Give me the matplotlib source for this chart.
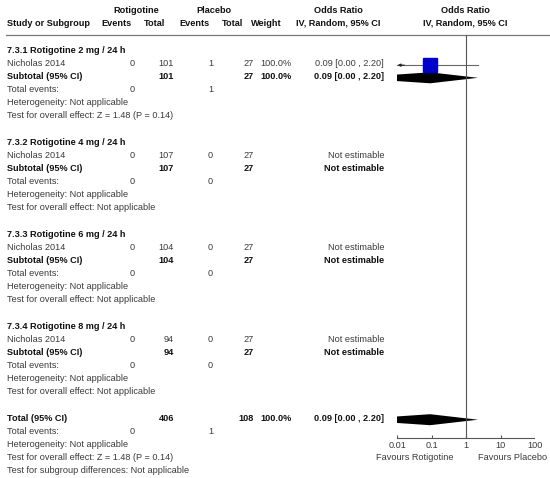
import matplotlib.pyplot as plt
from matplotlib.patches import Polygon

plt.rcParams['font.family'] = ['Liberation Sans', 'DejaVu Sans']

# data
groups = ['7.3.1 Rotigotine 2 mg / 24 h', '7.3.2 Rotigotine 4 mg / 24 h',
          '7.3.3 Rotigotine 6 mg / 24 h', '7.3.4 Rotigotine 8 mg / 24 h']
study = 'Nicholas 2014'
rot_events = [0, 0, 0, 0]
rot_total = [101, 107, 104, 94]
plc_events = [1, 0, 0, 0]
plc_total = [27, 27, 27, 27]
weights = ['100.0%', '', '', '']
or_est = [0.09, None, None, None]
or_low = [0.0004, None, None, None]   # shown as 0.00
or_high = [2.20, None, None, None]
group_tests = ['Z = 1.48 (P = 0.14)', 'Not applicable', 'Not applicable', 'Not applicable']

total_rot = 406
total_plc = 108
total_weight = '100.0%'
total_or = (0.09, 0.0004, 2.20)
ticks = [0.01, 0.1, 1, 10, 100]
tick_labels = ['0.01', '0.1', '1', '10', '100']

W, H = 550, 478
fig = plt.figure(figsize=(5.5, 4.78), dpi=100)
ax = fig.add_axes([0, 0, 1, 1])
ax.set_xlim(0, W)
ax.set_ylim(H, 0)
ax.axis('off')

# forest panel, log scale, 0.01 at x=397 and 100 at x=535
x0, x1 = 397.3, 535
fx = fig.add_axes([x0 / W, 0, (x1 - x0) / W, 1])
fx.set_xscale('log')
fx.set_xlim(0.01, 100)
fx.set_ylim(H, 0)
fx.axis('off')

fs = 6.6
grey = '#3a3a3a'
dark = '#111111'


def txt(x, y, s, ha='left', bold=False):
    ax.text(x, y, s, ha=ha, va='center', fontsize=fs,
            fontweight='bold' if bold else 'normal',
            color=dark if bold else grey)


def or_text(est, lo, hi):
    if est is None:
        return 'Not estimable'
    return f'{est:.2f} [{lo:.2f} , {hi:.2f}]'


# columns
c_ev1, c_tot1, c_ev2, c_tot2, c_w, c_or = 135, 174, 213, 254, 292, 384

# headers
txt(136, 10, 'Rotigotine', 'center', True)
txt(214, 10, 'Placebo', 'center', True)
txt(338, 10, 'Odds Ratio', 'center', True)
txt(465, 10, 'Odds Ratio', 'center', True)
txt(7, 23, 'Study or Subgroup', bold=True)
txt(116, 23, 'Events', 'center', True)
txt(155, 23, 'Total', 'center', True)
txt(194, 23, 'Events', 'center', True)
txt(233, 23, 'Total', 'center', True)
txt(266, 23, 'Weight', 'center', True)
txt(338, 23, 'IV, Random, 95% CI', 'center', True)
txt(465, 23, 'IV, Random, 95% CI', 'center', True)
ax.plot([6, W], [35, 35], color='#777777', lw=0.9)

step = 13.15
y_first = 50
half = 5.5

for i, g in enumerate(groups):
    base = y_first + i * 7 * step
    r = [base + k * step for k in range(6)]
    txt(7, r[0], g, bold=True)
    # study row
    txt(7, r[1], study)
    txt(c_ev1, r[1], str(rot_events[i]), 'right')
    txt(c_tot1, r[1], str(rot_total[i]), 'right')
    txt(c_ev2, r[1], str(plc_events[i]), 'right')
    txt(c_tot2, r[1], str(plc_total[i]), 'right')
    txt(c_w, r[1], weights[i], 'right')
    txt(c_or, r[1], or_text(or_est[i], or_low[i], or_high[i]), 'right')
    # subtotal row
    txt(7, r[2], 'Subtotal (95% CI)', bold=True)
    txt(c_tot1, r[2], str(rot_total[i]), 'right', True)
    txt(c_tot2, r[2], str(plc_total[i]), 'right', True)
    txt(c_w, r[2], weights[i], 'right', True)
    txt(c_or, r[2], or_text(or_est[i], or_low[i], or_high[i]), 'right', True)
    txt(7, r[3], 'Total events:')
    txt(c_ev1, r[3], str(rot_events[i]), 'right')
    txt(c_ev2, r[3], str(plc_events[i]), 'right')
    txt(7, r[4], 'Heterogeneity: Not applicable')
    txt(7, r[5], 'Test for overall effect: ' + group_tests[i])

    if or_est[i] is not None:
        ys = r[1] + 2
        fx.plot([0.01, or_high[i]], [ys, ys], color='#666666', lw=0.8)
        fx.annotate('', xy=(0.0102, ys), xytext=(0.016, ys),
                    arrowprops=dict(arrowstyle='-|>', color='#222222', lw=0.8,
                                    mutation_scale=4, shrinkA=0, shrinkB=0))
        fx.plot([or_est[i]], [ys], marker='s', ms=9.5, color='#0000cc',
                mec='#0000cc')
        yd = r[2] + 1.5
        fx.add_patch(Polygon([(or_low[i], yd), (or_est[i], yd - half),
                              (or_high[i], yd), (or_est[i], yd + half)],
                             closed=True, color='black', lw=0))

# overall total
yt = y_first + 28 * step
txt(7, yt, 'Total (95% CI)', bold=True)
txt(c_tot1, yt, str(total_rot), 'right', True)
txt(c_tot2, yt, str(total_plc), 'right', True)
txt(c_w, yt, total_weight, 'right', True)
txt(c_or, yt, or_text(*total_or), 'right', True)
txt(7, yt + step, 'Total events:')
txt(c_ev1, yt + step, str(sum(rot_events)), 'right')
txt(c_ev2, yt + step, str(sum(plc_events)), 'right')
txt(7, yt + 2 * step, 'Heterogeneity: Not applicable')
txt(7, yt + 3 * step, 'Test for overall effect: Z = 1.48 (P = 0.14)')
txt(7, yt + 4 * step, 'Test for subgroup differences: Not applicable')
est, lo, hi = total_or
fx.add_patch(Polygon([(lo, yt + 1.5), (est, yt + 1.5 - half), (hi, yt + 1.5),
                      (est, yt + 1.5 + half)], closed=True, color='black', lw=0))

# null line and axis
y_axis = 438.3
fx.plot([1, 1], [35, y_axis], color='#555555', lw=0.8)
fx.plot([0.01, 100], [y_axis, y_axis], color='#555555', lw=0.8)
fx.vlines(ticks, y_axis - 3.5, y_axis, color='#555555', lw=0.8)
for t, lab in zip(ticks, tick_labels):
    fx.text(t, 446, lab, ha='center', va='center', fontsize=fs, color=grey,
            clip_on=False)
txt(415, 457, 'Favours Rotigotine', 'center')
txt(513, 457, 'Favours Placebo', 'center')

fig.savefig('out.png', dpi=100)
